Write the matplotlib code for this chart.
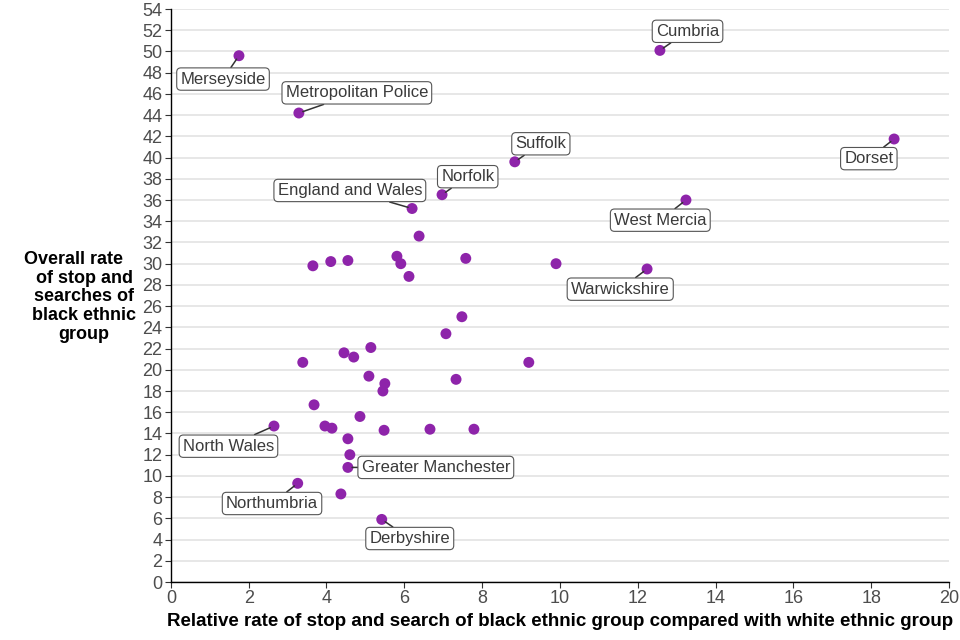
import matplotlib

matplotlib.use("Agg")
import matplotlib.pyplot as plt

plt.rcParams["font.family"] = ["Liberation Sans", "DejaVu Sans"]

POINT = "#8e24aa"
GRID = "#e3e3e3"
TEXT = "#3a3a3a"

# relative rate (x) and overall rate per 1,000 (y) for every force
rel_rate = [
    1.75, 3.29, 12.57, 18.59, 8.84, 6.97, 6.20, 13.24, 12.24, 2.65,
    4.55, 3.26, 5.42,
    9.90, 6.38, 3.65, 4.11, 4.55, 5.81, 5.91, 6.12, 7.58, 7.48, 7.07,
    3.39, 4.45, 4.70, 5.14, 5.09, 5.50, 5.45, 7.33, 9.20, 3.68, 4.86,
    3.96, 4.14, 5.48, 6.66, 7.79, 4.55, 4.60, 4.37,
]
overall_rate = [
    49.6, 44.2, 50.1, 41.75, 39.6, 36.5, 35.2, 36.0, 29.5, 14.7,
    10.8, 9.3, 5.9,
    30.0, 32.6, 29.8, 30.2, 30.3, 30.7, 30.0, 28.8, 30.5, 25.0, 23.4,
    20.7, 21.6, 21.2, 22.1, 19.4, 18.7, 18.0, 19.1, 20.7, 16.7, 15.6,
    14.7, 14.5, 14.3, 14.4, 14.4, 13.5, 12.0, 8.3,
]

# labelled forces (first entries of the arrays above) and where their labels sit
labels = [
    "Merseyside", "Metropolitan Police", "Cumbria", "Dorset", "Suffolk",
    "Norfolk", "England and Wales", "West Mercia", "Warwickshire",
    "North Wales", "Greater Manchester", "Northumbria", "Derbyshire",
]
label_x = [1.34, 4.78, 13.28, 17.94, 9.51, 7.63, 4.60, 12.58, 11.55, 1.48, 6.81, 2.60, 6.14]
label_y = [47.4, 46.1, 51.9, 39.9, 41.3, 38.2, 36.9, 34.1, 27.6, 12.8, 10.8, 7.4, 4.1]

x_ticks = list(range(0, 21, 2))
y_ticks = list(range(0, 55, 2))

fig = plt.figure(figsize=(9.6, 6.4), dpi=100)
ax = fig.add_axes([0.178, 0.0906, 0.8105, 0.8953])

ax.set_xlim(0, 20)
ax.set_ylim(0, 54)
ax.set_xticks(x_ticks)
ax.set_yticks(y_ticks)
ax.tick_params(labelsize=13, colors="#333333", labelcolor="#4d4d4d",
               length=4, width=0.8, pad=2)
ax.yaxis.grid(True, color=GRID, linewidth=1.2)
ax.xaxis.grid(False)
ax.set_axisbelow(True)
for side in ("top", "right"):
    ax.spines[side].set_visible(False)
for side in ("left", "bottom"):
    ax.spines[side].set_linewidth(1.0)
    ax.spines[side].set_color("black")

ax.scatter(rel_rate, overall_rate, s=62, color=POINT, edgecolors="none", zorder=3)

for i, name in enumerate(labels):
    ax.annotate(
        name,
        xy=(rel_rate[i], overall_rate[i]),
        xytext=(label_x[i], label_y[i]),
        ha="center", va="center", fontsize=12, color=TEXT, zorder=4,
        bbox=dict(boxstyle="round,pad=0.22,rounding_size=0.25", fc="white",
                  ec="#555555", lw=0.8),
        arrowprops=dict(arrowstyle="-", color="#333333", lw=1.1,
                        shrinkA=0, shrinkB=3),
    )

ax.set_xlabel(
    "Relative rate of stop and search of black ethnic group compared with white ethnic group",
    fontsize=13.5, fontweight="bold", labelpad=4,
)
fig.text(
    0.0875, 0.536,
    "Overall rate    \nof stop and\nsearches of\nblack ethnic\ngroup",
    ha="center", va="center", fontsize=13, fontweight="bold", linespacing=1.12,
)

fig.savefig("out.png", dpi=100)
plt.close(fig)
